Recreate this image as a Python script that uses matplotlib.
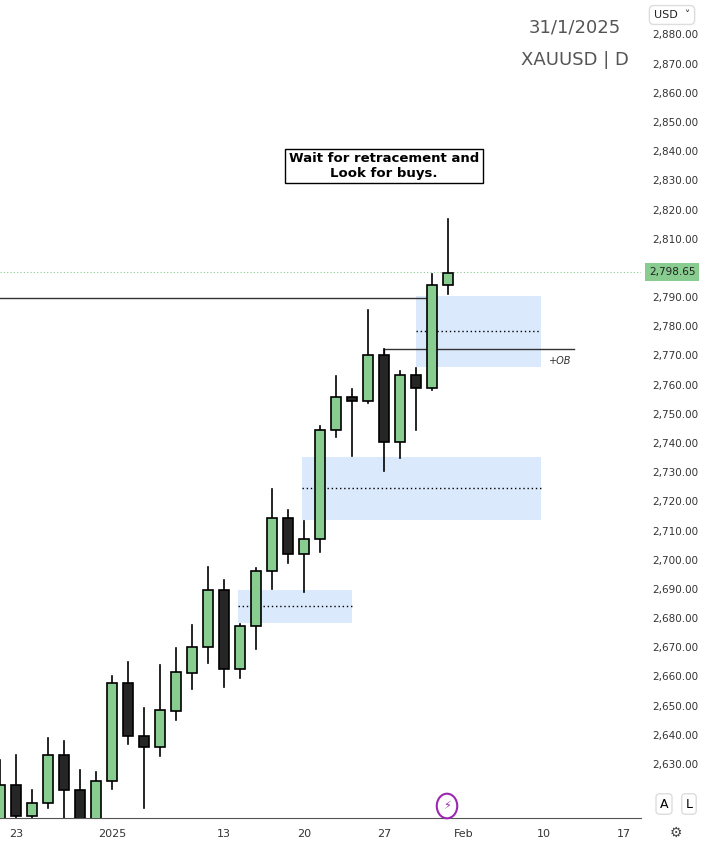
import matplotlib.pyplot as plt
from matplotlib.patches import Rectangle, Circle

# daily candles, index 0 = Dec 23 2024
idx = list(range(-1, 28))
opens = [2605.0, 2622.8, 2612.3, 2616.6, 2633.0, 2621.0, 2610.0, 2624.1, 2657.9, 2639.5, 2636.0, 2648.2,
         2661.2, 2670.0, 2689.6, 2662.5, 2677.2, 2696.1, 2714.3, 2701.9, 2707.0, 2744.4, 2755.8, 2754.4,
         2770.2, 2740.4, 2763.3, 2758.8, 2794.2]
closes = [2622.8, 2612.3, 2616.6, 2633.0, 2621.0, 2610.0, 2624.1, 2657.9, 2639.5, 2636.0, 2648.4, 2661.4,
          2670.0, 2689.6, 2662.5, 2677.2, 2696.1, 2714.3, 2701.9, 2707.0, 2744.4, 2755.8, 2754.4, 2770.2,
          2740.4, 2763.3, 2758.8, 2794.2, 2798.3]
highs = [2631.4, 2633.1, 2621.0, 2638.9, 2637.9, 2628.0, 2627.3, 2660.2, 2664.9, 2649.3, 2664.0, 2669.8,
         2677.8, 2697.6, 2693.0, 2678.0, 2697.2, 2724.3, 2717.1, 2713.3, 2745.9, 2763.0, 2758.6, 2785.7,
         2772.2, 2764.8, 2765.7, 2798.0, 2816.9]
lows = [2600.0, 2605.0, 2605.0, 2615.0, 2605.0, 2600.0, 2600.0, 2621.5, 2636.8, 2614.8, 2632.7, 2645.0,
        2655.7, 2664.6, 2656.5, 2659.6, 2669.4, 2690.0, 2699.0, 2689.1, 2702.8, 2741.9, 2735.6, 2753.7,
        2730.3, 2734.7, 2744.6, 2758.0, 2791.0]

# demand zones: (x_start, x_end, bottom, top, mid)
zones = [(13.9, 21.0, 2678.4, 2689.7, 2684.0),
         (17.9, 32.8, 2713.7, 2735.3, 2724.6),
         (25.0, 32.8, 2766.1, 2790.5, 2778.5)]
last_price = 2798.65
level_high = 2789.8
ob_level = 2772.3

tick_pos = [0, 6, 13, 18, 23, 28, 33, 38]
tick_lab = ['23', '2025', '13', '20', '27', 'Feb', '10', '17']
yticks = list(range(2630, 2881, 10))

green = '#88cc8f'
dark = '#262626'

fig = plt.figure(figsize=(7.06, 8.48), dpi=100)
ax = fig.add_axes([0, 30 / 848, 641 / 706, 818 / 848])
ax.set_xlim(-1.0, 39.06)
ax.set_ylim(2611.5, 2891.8)

for x0, x1, b, t, m in zones:
    ax.add_patch(Rectangle((x0, b), x1 - x0, t - b, color='#dbe9fc', zorder=1, lw=0))
    ax.plot([x0, x1], [m, m], color='black', ls=(0, (1, 2)), lw=1, zorder=2)

ax.plot([-1, 25.9], [level_high, level_high], color='#333333', lw=1, zorder=2)
ax.plot([23, 34.9], [ob_level, ob_level], color='#333333', lw=1, zorder=2)
ax.plot([23, 23], [ob_level, ob_level - 2], color='#333333', lw=1, zorder=2)
ax.text(33.3, ob_level - 2.5, '+OB', fontsize=7, style='italic', va='top', color='#333333')
ax.axhline(last_price, color='#88cc8f', ls=(0, (1, 2)), lw=0.8, zorder=2)

for i, o, c, h, l in zip(idx, opens, closes, highs, lows):
    col = green if c >= o else dark
    ax.plot([i, i], [l, h], color='black', lw=1.2, zorder=3)
    ax.add_patch(Rectangle((i - 0.3, min(o, c)), 0.6, max(abs(c - o), 0.6),
                           facecolor=col, edgecolor='black', lw=1.2, zorder=4))

ax.set_xticks(tick_pos)
ax.set_xticklabels(tick_lab, fontsize=8, color='#333333')
ax.set_yticks(yticks)
# the 2,800 label sits behind the last-price badge
ax.set_yticklabels(['' if v == 2800 else f'{v:,.2f}' for v in yticks], fontsize=7.5, color='#333333')
ax.yaxis.tick_right()
ax.tick_params(length=0, pad=8)
for s in ['top', 'left', 'right']:
    ax.spines[s].set_visible(False)
ax.spines['bottom'].set_color('#555555')

ax.text(384 / 641, 1 - 166 / 818, 'Wait for retracement and\nLook for buys.', transform=ax.transAxes,
        ha='center', va='center', fontsize=9.5, fontweight='bold', linespacing=1.1,
        bbox=dict(boxstyle='square,pad=0.3', fc='white', ec='black', lw=1))

fig.text(575 / 706, 1 - 27 / 848, '31/1/2025', ha='center', va='center', fontsize=13, color='#555555')
fig.text(575 / 706, 1 - 60 / 848, 'XAUUSD | D', ha='center', va='center', fontsize=13, color='#555555')

# price badge
fig.text(672 / 706, 1 - 272 / 848, f'{last_price:,.2f}', ha='center', va='center', fontsize=7.5,
         color='#222222', bbox=dict(boxstyle='square,pad=0.35', fc=green, ec='none'))
fig.text(672 / 706, 1 - 15 / 848, 'USD  \u02c5', ha='center', va='center', fontsize=8, color='#222222',
         bbox=dict(boxstyle='round,pad=0.4', fc='white', ec='#dddddd'))
fig.text(664 / 706, 1 - 804 / 848, 'A', ha='center', va='center', fontsize=9,
         bbox=dict(boxstyle='round,pad=0.3', fc='white', ec='#dddddd'))
fig.text(689 / 706, 1 - 804 / 848, 'L', ha='center', va='center', fontsize=9,
         bbox=dict(boxstyle='round,pad=0.3', fc='white', ec='#dddddd'))
fig.text(676 / 706, 1 - 833 / 848, '\u2699', ha='center', va='center', fontsize=10, color='#444444')
fig.patches.append(Circle((447 / 706, 1 - 806 / 848), 0.0145, transform=fig.transFigure,
                          fc='white', ec='#9c27b0', lw=1.5))
fig.text(447 / 706, 1 - 806 / 848, '\u26a1', ha='center', va='center', fontsize=8, color='#9c27b0')

fig.savefig('out.png', dpi=100)
